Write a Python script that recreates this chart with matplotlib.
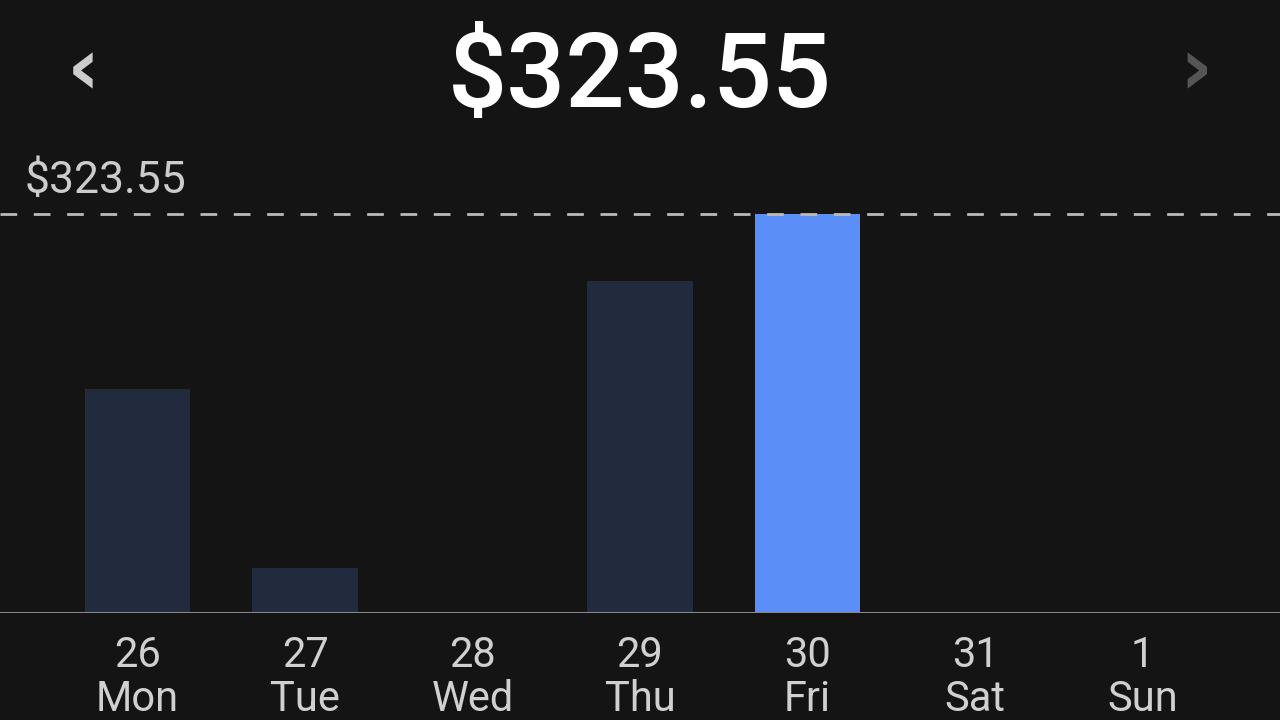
import matplotlib
matplotlib.use("Agg")
import matplotlib.pyplot as plt

days = ["26\nMon", "27\nTue", "28\nWed", "29\nThu", "30\nFri", "31\nSat", "1\nSun"]
earnings = [181.6, 36.5, 0.0, 269.2, 323.55, 0.0, 0.0]
selected = 4
total_label = "$323.55"
max_value = 323.55

BG = "#141414"
plt.rcParams['font.family'] = ['Roboto', 'DejaVu Sans']

fig = plt.figure(figsize=(12.8, 7.2), dpi=100, facecolor=BG)
ax = fig.add_axes([0, 107/720, 1, 613/720])
ax.set_facecolor(BG)

x = list(range(len(days)))
colors = ["#5B8FF7" if i == selected else "#222B3D" for i in x]
ax.bar(x, earnings, width=0.627, color=colors, zorder=2)

ax.set_xlim(-137.5/167.5, (1280-137.5)/167.5)
ax.set_ylim(0, max_value * 613/399)

ax.axhline(max_value, color="#BBBBBB", lw=2, ls=(0, (6, 6)), zorder=3)
ax.axhline(0, color="#888888", lw=1.5, zorder=3)

for s in ax.spines.values():
    s.set_visible(False)
ax.set_yticks([])
ax.set_xticks(x)
ax.set_xticklabels(days, fontsize=30, color="#D0D0D0", fontweight="normal", linespacing=1.1)
ax.tick_params(axis="x", length=0, pad=16)

fig.text(25/1280, 1 - 181/720, total_label, fontsize=32, color="#CCCCCC",
         fontweight="normal", ha="left", va="center")
fig.text(640/1280, 1 - 78/720, total_label, fontsize=75, color="#FFFFFF",
         fontweight="medium", ha="center", va="center")
fig.text(83/1280, 1 - 72/720, "‹", fontsize=58, color="#CCCCCC",
         fontweight="bold", ha="center", va="center", family="DejaVu Sans")
fig.text(1196/1280, 1 - 72/720, "›", fontsize=58, color="#555555",
         fontweight="bold", ha="center", va="center", family="DejaVu Sans")

fig.savefig("out.png", dpi=100, facecolor=BG)
